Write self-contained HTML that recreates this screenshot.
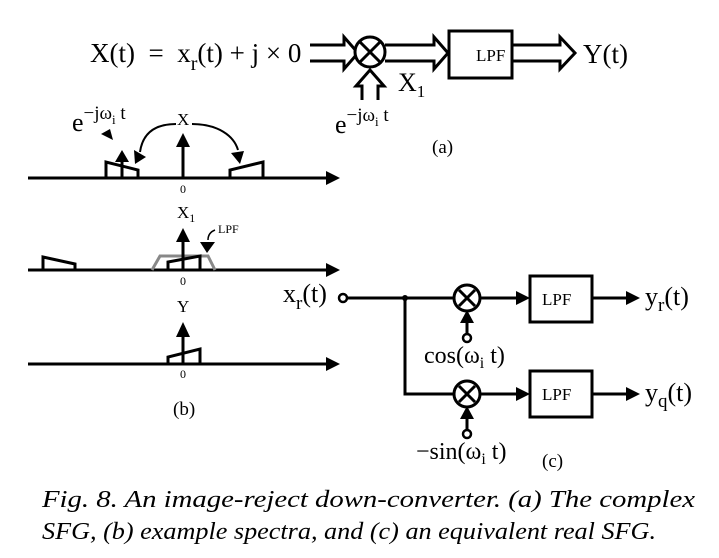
<!DOCTYPE html>
<html><head><style>
html,body{margin:0;padding:0;background:#fff;}
svg{display:block;}
text{font-family:"Liberation Serif","Times New Roman","Nimbus Roman",Times,serif;fill:#000;white-space:pre;}
</style></head><body>
<svg width="719" height="558" viewBox="0 0 719 558" xmlns="http://www.w3.org/2000/svg" xml:space="preserve">
<g stroke="#000" stroke-width="3" fill="none">
<path d="M310,45 H344 V37 L358,53 L344,69 V61 H310" fill="#fff"/>
<circle cx="370" cy="52" r="15" fill="#fff"/>
<path d="M360,42 L380,62 M380,42 L360,62"/>
<path d="M385,45 H434 V37 L448,53 L434,69 V61 H385"/>
<rect x="449" y="31" width="63" height="47"/>
<path d="M512,45 H560 V37 L575,53 L560,69 V61 H512"/>
<path d="M362,100 V86 H356 L370,70 L384,86 H378 V100"/>
<line x1="28" y1="178" x2="328" y2="178"/>
<path d="M106,178 V162 L138,170 V178"/>
<path d="M230,178 V170 L263,162 V178"/>
<line x1="183" y1="178" x2="183" y2="145"/>
<line x1="122" y1="178" x2="122" y2="160"/>
<path d="M176,124 C150,124 142,138 140,152" stroke-width="2"/>
<path d="M192,124 C218,124 234,136 238,150" stroke-width="2"/>
<line x1="28" y1="270" x2="328" y2="270"/>
<path d="M43,270 V257 L75,264 V270"/>
<path d="M152,270 L160,256 H208 L215,270" stroke="#888"/>
<path d="M168,270 V262 L200,256 V270"/>
<line x1="183" y1="270" x2="183" y2="240"/>
<path d="M215,230 C210,232 208,236 208,240" stroke-width="1.5"/>
<line x1="28" y1="364" x2="328" y2="364"/>
<path d="M168,364 V357 L200,349 V364"/>
<line x1="183" y1="364" x2="183" y2="335"/>
<circle cx="343" cy="298" r="4" fill="#fff" stroke-width="2.5"/>
<line x1="347" y1="298" x2="454" y2="298"/>
<path d="M405,298 V394 H454"/>
<circle cx="467" cy="298" r="13" fill="#fff"/>
<path d="M459,290 L475,306 M475,290 L459,306"/>
<circle cx="467" cy="394" r="13" fill="#fff"/>
<path d="M459,386 L475,402 M475,386 L459,402"/>
<line x1="480" y1="298" x2="516" y2="298"/>
<line x1="480" y1="394" x2="516" y2="394"/>
<rect x="530" y="276" width="62" height="46"/>
<rect x="530" y="371" width="62" height="46"/>
<line x1="592" y1="298" x2="626" y2="298"/>
<line x1="592" y1="394" x2="626" y2="394"/>
<line x1="467" y1="334" x2="467" y2="322"/>
<line x1="467" y1="430" x2="467" y2="418"/>
<circle cx="467" cy="338" r="4" fill="#fff" stroke-width="2.5"/>
<circle cx="467" cy="434" r="4" fill="#fff" stroke-width="2.5"/>
</g>
<g fill="#000">
<circle cx="405" cy="298" r="3"/>
<path d="M326,171 L340,178 L326,185 z"/>
<path d="M326,263 L340,270 L326,277 z"/>
<path d="M326,357 L340,364 L326,371 z"/>
<path d="M176,147 L183,133 L190,147 z"/>
<path d="M115,162 L122,150 L129,162 z"/>
<path d="M176,242 L183,228 L190,242 z"/>
<path d="M176,337 L183,322 L190,337 z"/>
<path d="M134,150 L135,164 L146,157 z"/>
<path d="M231,153 L240,164 L244,151 z"/>
<path d="M101,134 L113,140 L110,129 z"/>
<path d="M200,242 L207,253 L215,242 z"/>
<path d="M516,291 L530,298 L516,305 z"/>
<path d="M516,387 L530,394 L516,401 z"/>
<path d="M626,291 L640,298 L626,305 z"/>
<path d="M626,387 L640,394 L626,401 z"/>
<path d="M460,323 L467,310 L474,323 z"/>
<path d="M460,419 L467,406 L474,419 z"/>
</g>
<text x="90" y="62" font-size="27">X(t)  =  x<tspan font-size="20" dy="8">r</tspan><tspan dy="-8">(t) + j × 0</tspan></text>
<text x="476" y="61" font-size="17">LPF</text>
<text x="583" y="63" font-size="27">Y(t)</text>
<text x="398" y="91" font-size="26">X<tspan font-size="17" dy="6">1</tspan></text>
<text x="335" y="133" font-size="26">e<tspan font-size="19" dy="-12">−jω</tspan><tspan font-size="13" dy="5">i</tspan><tspan font-size="19" dy="-5"> t</tspan></text>
<text x="432" y="153" font-size="19">(a)</text>
<text x="72" y="131" font-size="26">e<tspan font-size="19" dy="-12">−jω</tspan><tspan font-size="13" dy="5">i</tspan><tspan font-size="19" dy="-5"> t</tspan></text>
<text x="177" y="125" font-size="17">X</text>
<text x="180" y="193" font-size="12">0</text>
<text x="177" y="218" font-size="17">X<tspan font-size="12" dy="4">1</tspan></text>
<text x="218" y="233" font-size="12">LPF</text>
<text x="180" y="285" font-size="12">0</text>
<text x="177" y="312" font-size="17">Y</text>
<text x="180" y="378" font-size="12">0</text>
<text x="173" y="415" font-size="19">(b)</text>
<text x="283" y="302" font-size="26">x<tspan font-size="19" dy="7">r</tspan><tspan dy="-7">(t)</tspan></text>
<text x="542" y="305" font-size="17">LPF</text>
<text x="542" y="400" font-size="17">LPF</text>
<text x="645" y="305" font-size="26">y<tspan font-size="19" dy="6">r</tspan><tspan dy="-6">(t)</tspan></text>
<text x="645" y="401" font-size="26">y<tspan font-size="19" dy="6">q</tspan><tspan dy="-6">(t)</tspan></text>
<text x="424" y="363" font-size="24">cos(ω<tspan font-size="16" dy="5">i</tspan><tspan dy="-5"> t)</tspan></text>
<text x="416" y="459" font-size="24">−sin(ω<tspan font-size="16" dy="5">i</tspan><tspan dy="-5"> t)</tspan></text>
<text x="542" y="467" font-size="19">(c)</text>
<text x="42" y="507" font-size="24" font-style="italic" textLength="653" lengthAdjust="spacingAndGlyphs">Fig. 8. An image-reject down-converter. (a) The complex</text>
<text x="42" y="539" font-size="24" font-style="italic" textLength="614" lengthAdjust="spacingAndGlyphs">SFG, (b) example spectra, and (c) an equivalent real SFG.</text>
</svg>
</body></html>
